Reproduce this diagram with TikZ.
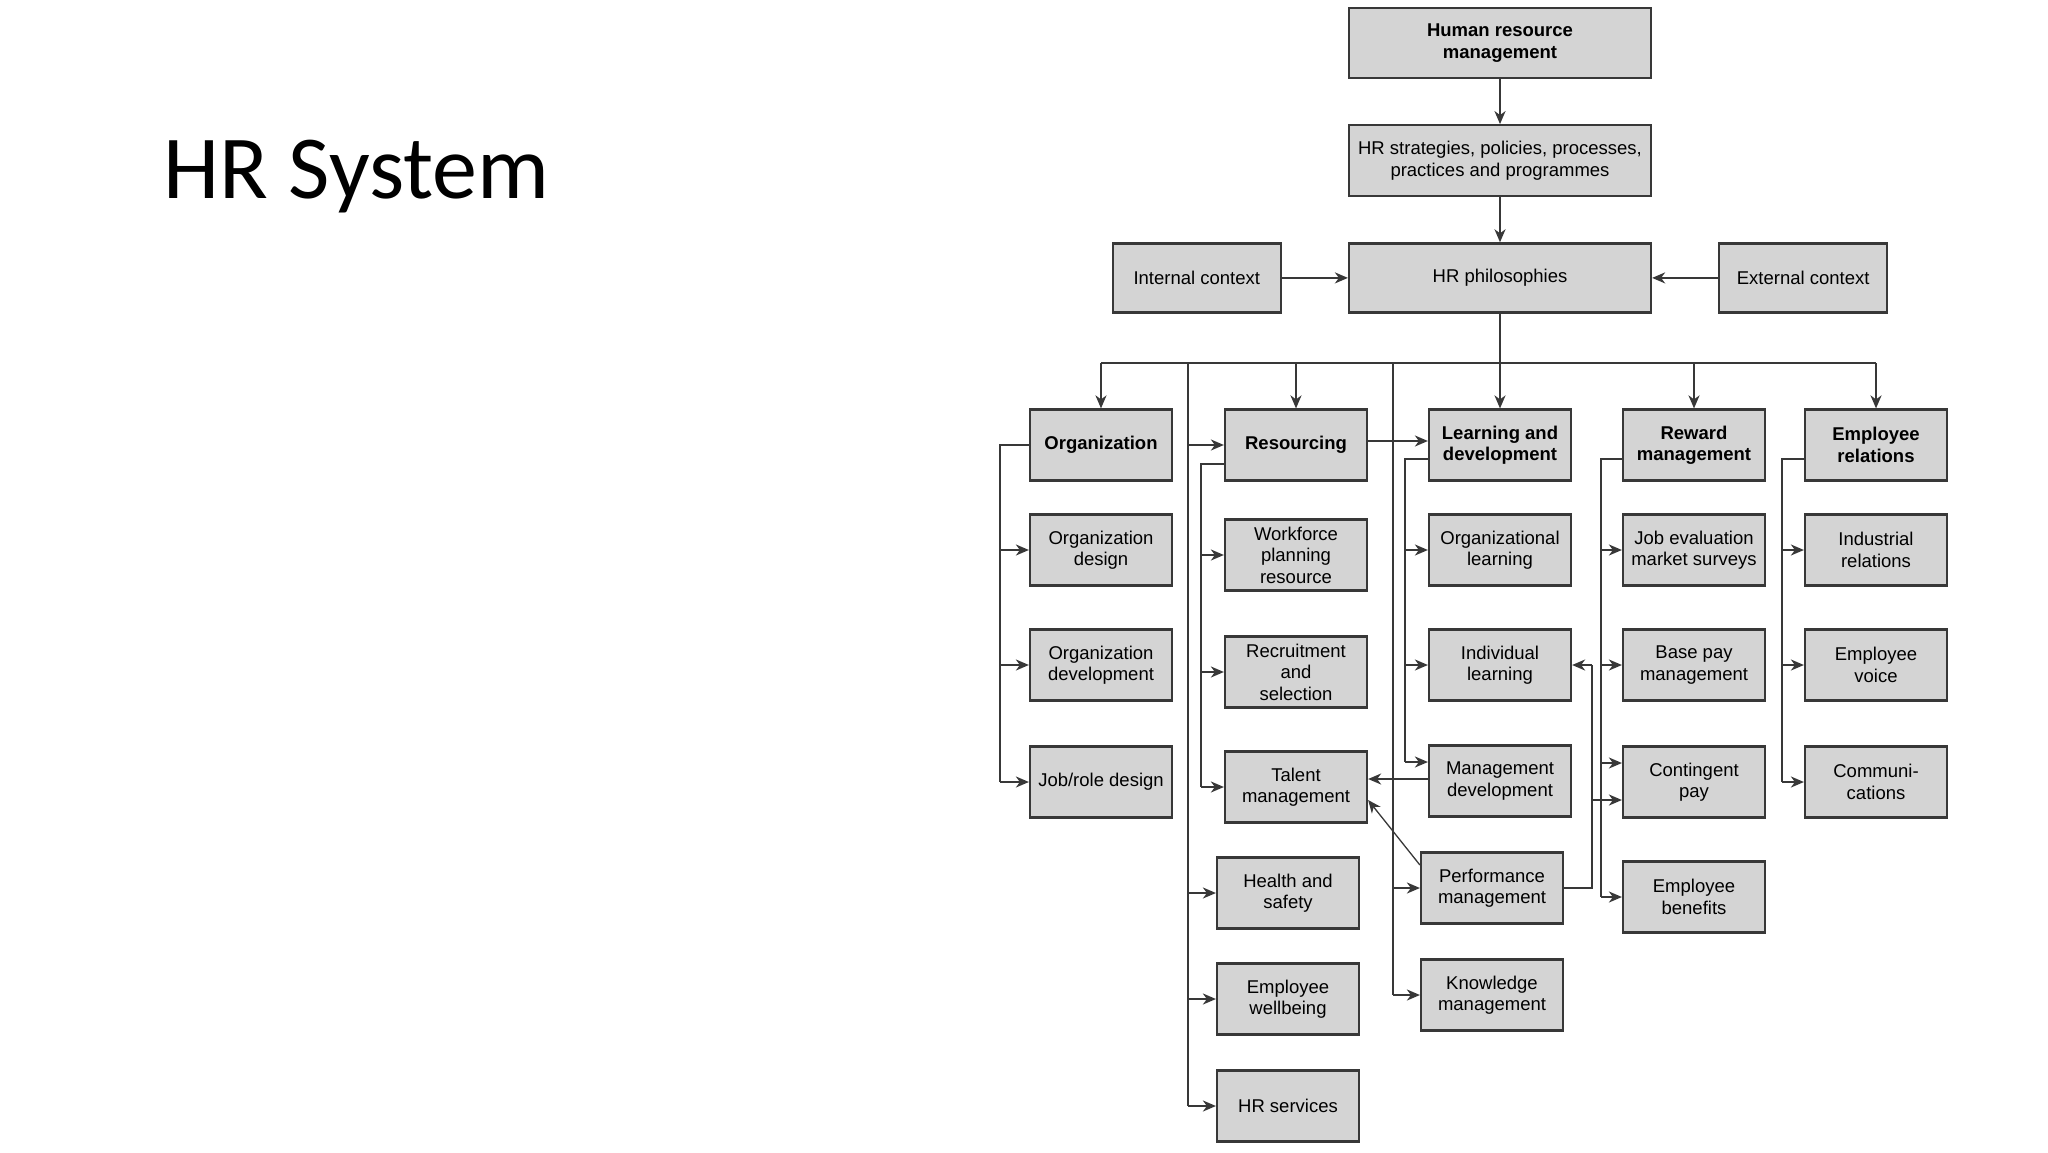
\documentclass[tikz,border=0pt]{standalone}
\usepackage{fontspec}
\setmainfont{Liberation Sans}
\newfontfamily\titlefont{Carlito}
\usetikzlibrary{arrows.meta, positioning, calc}
\definecolor{boxgray}{HTML}{D4D4D4}
\definecolor{edgegray}{HTML}{383838}

\begin{document}
\begin{tikzpicture}[x=1pt, y=-1pt,
  every node/.style={font=\fontsize{18.5}{21.5}\selectfont},
  hrbox/.style={draw=edgegray, fill=boxgray, line width=2.2pt, minimum width=142pt, minimum height=71pt, inner sep=2pt, align=center},
  headbox/.style={hrbox, font=\fontsize{18.5}{21.5}\selectfont\bfseries},
  wire/.style={edgegray, line width=2pt},
  conn/.style={wire, -{Stealth[length=13pt, width=11pt, inset=4pt]}}]
  \useasboundingbox (0,0) rectangle (2048,1152);

  \node[anchor=base west, font=\titlefont\fontsize{90}{100}\selectfont] (title) at (160,198) {HR System};

  % top of the tree
  \node[headbox, minimum width=302pt, minimum height=70pt] (hrm) at (1500,43) {Human resource\\management};
  \node[hrbox, minimum width=302pt, below=45pt of hrm] (strat) {HR strategies, policies, processes,\\practices and programmes};
  \node[hrbox, minimum width=302pt, minimum height=69pt, below=45pt of strat] (phil) {HR philosophies};
  \node[hrbox, minimum width=168pt, minimum height=69pt, left=66pt of phil] (intc) {Internal context};
  \node[hrbox, minimum width=168pt, minimum height=69pt, right=66pt of phil] (extc) {External context};

  % main areas
  \node[headbox] (org) at (1101,445) {Organization};
  \node[headbox] (res) at (1296,445) {Resourcing};
  \node[headbox] (ld) at (1500,445) {Learning and\\development};
  \node[headbox] (rew) at (1694,445) {Reward\\management};
  \node[headbox] (er) at (1876,445) {Employee\\relations};

  % organization
  \node[hrbox] (odes) at (1101,550) {Organization\\design};
  \node[hrbox] (odev) at (1101,665) {Organization\\development};
  \node[hrbox] (jrd) at (1101,782) {Job/role design};

  % resourcing
  \node[hrbox] (wf) at (1296,555) {Workforce\\planning\\resource};
  \node[hrbox] (rs) at (1296,672) {Recruitment\\and\\selection};
  \node[hrbox] (tal) at (1296,787) {Talent\\management};
  \node[hrbox] (hs) at (1288,893) {Health and\\safety};
  \node[hrbox] (wb) at (1288,999) {Employee\\wellbeing};
  \node[hrbox] (hrs) at (1288,1106) {HR services};

  % learning and development
  \node[hrbox] (orgl) at (1500,550) {Organizational\\learning};
  \node[hrbox] (indl) at (1500,665) {Individual\\learning};
  \node[hrbox] (mdev) at (1500,781) {Management\\development};
  \node[hrbox] (perf) at (1492,888) {Performance\\management};
  \node[hrbox] (km) at (1492,995) {Knowledge\\management};

  % reward
  \node[hrbox] (jev) at (1694,550) {Job evaluation\\market surveys};
  \node[hrbox] (bpay) at (1694,665) {Base pay\\management};
  \node[hrbox] (cpay) at (1694,782) {Contingent\\pay};
  \node[hrbox] (ben) at (1694,897) {Employee\\benefits};

  % employee relations
  \node[hrbox] (ir) at (1876,550) {Industrial\\relations};
  \node[hrbox] (voice) at (1876,665) {Employee\\voice};
  \node[hrbox] (comm) at (1876,782) {Communi-\\cations};

  % top arrows
  \draw[conn] (hrm) -- (strat);
  \draw[conn] (strat) -- (phil);
  \draw[conn] (intc) -- (phil);
  \draw[conn] (extc) -- (phil);

  % distribution bus
  \coordinate (bus) at (1500,363);
  \coordinate (v1) at (1188,363);
  \coordinate (v2) at (1393,363);
  \draw[wire] (org.north |- bus) -- (er.north |- bus);
  \draw[conn] (phil) -- (ld);
  \foreach \n in {org,res,rew,er}
    \draw[conn] (\n.north |- bus) -- (\n.north);
  \draw[wire] (v1) -- (v1 |- hrs.west);
  \foreach \n in {res,hs,wb,hrs}
    \draw[conn] (v1 |- \n.west) -- (\n.west);
  \draw[wire] (v2) -- (v2 |- km.west);
  \foreach \n in {perf,km}
    \draw[conn] (v2 |- \n.west) -- (\n.west);

  % organization branch
  \coordinate (ob) at (1000,445);
  \draw[wire] (org.west) -- (ob) -- (ob |- jrd.west);
  \foreach \n in {odes,odev,jrd}
    \draw[conn] (ob |- \n.west) -- (\n.west);

  % resourcing branch
  \coordinate (rb) at (1201,464);
  \draw[wire] ([yshift=-19pt]res.west) -- (rb) -- (rb |- tal.west);
  \foreach \n in {wf,rs,tal}
    \draw[conn] (rb |- \n.west) -- (\n.west);
  \draw[conn] ([yshift=4pt]res.east) -- ([yshift=4pt]ld.west);

  % learning and development branch
  \coordinate (lb) at (1405,459);
  \coordinate (md2) at ([yshift=19pt]mdev.west);
  \draw[wire] ([yshift=-14pt]ld.west) -- (lb) -- (lb |- md2);
  \foreach \n in {orgl,indl}
    \draw[conn] (lb |- \n.west) -- (\n.west);
  \draw[conn] (lb |- md2) -- (md2);
  \draw[conn] ([yshift=2pt]mdev.west) -- ([yshift=2pt]mdev.west -| tal.east);
  \draw[conn, line width=1.3pt] ([yshift=23pt]perf.west) -- ([yshift=-13pt]tal.east);

  % performance management feeds
  \coordinate (pj) at (1592,888);
  \coordinate (cp2) at ([yshift=-18pt]cpay.west);
  \draw[wire] (perf.east) -- (pj) -- (pj |- indl.east);
  \draw[conn] (pj |- indl.east) -- (indl.east);
  \draw[conn] (cp2 -| pj) -- (cp2);

  % reward branch
  \coordinate (wb2) at (1601,459);
  \coordinate (cp1) at ([yshift=19pt]cpay.west);
  \draw[wire] ([yshift=-14pt]rew.west) -- (wb2) -- (wb2 |- ben.west);
  \foreach \n in {jev,bpay,ben}
    \draw[conn] (wb2 |- \n.west) -- (\n.west);
  \draw[conn] (wb2 |- cp1) -- (cp1);

  % employee relations branch
  \coordinate (eb) at (1782,459);
  \draw[wire] ([yshift=-14pt]er.west) -- (eb) -- (eb |- comm.west);
  \foreach \n in {ir,voice,comm}
    \draw[conn] (eb |- \n.west) -- (\n.west);
\end{tikzpicture}
\end{document}
